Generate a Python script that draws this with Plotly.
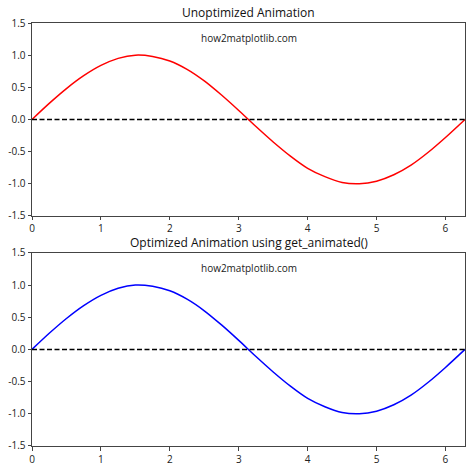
import plotly.graph_objects as go

# Values
x_vals = [0.0, 0.25, 0.5, 0.75, 1.0, 1.25, 1.5, 1.75, 2.0, 2.25, 2.5, 2.75, 3.0, 3.25,
          3.5, 3.75, 4.0, 4.25, 4.5, 4.75, 5.0, 5.25, 5.5, 5.75, 6.0, 6.2832]
y_vals = [0.0, 0.25, 0.48, 0.68, 0.84, 0.95, 1.0, 0.98, 0.91, 0.78, 0.60, 0.38, 0.14, -0.11,
          -0.35, -0.57, -0.76, -0.89, -0.98, -1.0, -0.96, -0.86, -0.71, -0.51, -0.28, 0.0]
zero_x = [0.0, 6.2832]
zero_y = [0.0, 0.0]
titles = ["Unoptimized Animation", "Optimized Animation using get_animated()"]
colors = ["red", "blue"]
watermark = "how2matplotlib.com"
x_ticks = [0, 1, 2, 3, 4, 5, 6]
y_ticks = [-1.5, -1.0, -0.5, 0.0, 0.5, 1.0, 1.5]
y_tick_text = ["-1.5", "-1.0", "-0.5", "0.0", "0.5", "1.0", "1.5"]

FONT = "Open Sans, Noto Sans, DejaVu Sans, sans-serif"

fig = go.Figure()
domains = [[0.544, 1.0], [0.0, 0.4567]]
for i in range(2):
    xa = "x" if i == 0 else "x2"
    ya = "y" if i == 0 else "y2"
    fig.add_trace(go.Scatter(x=x_vals, y=y_vals, mode="lines",
                             line=dict(color=colors[i], width=1.5, shape="spline", smoothing=0.8),
                             xaxis=xa, yaxis=ya, showlegend=False))
    fig.add_trace(go.Scatter(x=zero_x, y=zero_y, mode="lines",
                             line=dict(color="black", width=1.5, dash="5px,2.5px"),
                             xaxis=xa, yaxis=ya, showlegend=False))

axis_common = dict(showgrid=False, zeroline=False, showline=True, linecolor="#444",
                   linewidth=1, mirror=True, ticks="outside", ticklen=3.5, tickcolor="#444",
                   tickfont=dict(family=FONT, size=10, color="#222"))

fig.update_layout(
    xaxis=dict(domain=[0, 1], anchor="y", range=[0, 6.2832], tickvals=x_ticks, **axis_common),
    yaxis=dict(domain=domains[0], anchor="x", range=[-1.5, 1.5], tickvals=y_ticks,
               ticktext=y_tick_text, **axis_common),
    xaxis2=dict(domain=[0, 1], anchor="y2", range=[0, 6.2832], tickvals=x_ticks, **axis_common),
    yaxis2=dict(domain=domains[1], anchor="x2", range=[-1.5, 1.5], tickvals=y_ticks,
                ticktext=y_tick_text, **axis_common),
    width=474, height=474,
    margin=dict(l=30, r=8, t=23, b=24),
    plot_bgcolor="white", paper_bgcolor="white",
)

for i in range(2):
    xd = "x domain" if i == 0 else "x2 domain"
    yd = "y domain" if i == 0 else "y2 domain"
    fig.add_annotation(text=titles[i], xref=xd, yref=yd, x=0.5, y=1.0, yshift=0,
                       xanchor="center", yanchor="bottom", showarrow=False,
                       font=dict(family=FONT, size=12, color="#111"))
    fig.add_annotation(text=watermark, xref=xd, yref=yd, x=0.5, y=0.92,
                       xanchor="center", yanchor="middle", showarrow=False,
                       font=dict(family=FONT, size=10, color="#222"))

fig.write_html("out.html")
